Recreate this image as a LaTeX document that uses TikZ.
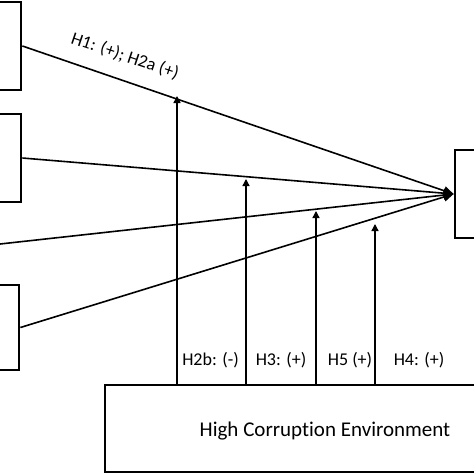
\documentclass[tikz,border=0pt]{standalone}
\usepackage{fontspec}
\setmainfont{Carlito}[Ligatures=NoCommon]
\usetikzlibrary{arrows.meta}
\begin{document}
\begin{tikzpicture}[x=1pt,y=-1pt,
  box/.style={draw=black, line width=2.8pt, fill=white, inner sep=0pt, minimum width=42pt},
  conn/.style={line width=1.6pt, -{Triangle[length=10pt,width=9pt]}},
  mod/.style={line width=1.3pt, -{Triangle[length=7pt,width=7pt]}},
  lab/.style={font=\fontsize{18}{20}\selectfont, anchor=base, inner sep=0pt}]
\useasboundingbox (0,0) rectangle (474,474);
\clip (0,0) rectangle (474,474);
\fill[white] (0,0) rectangle (474,474);
% boxes
\node[box, minimum height=88pt] (b1) at (0,46) {};
\node[box, minimum height=88pt] (b2) at (0,158) {};
\coordinate (b3) at (0,244);
\node[box, minimum height=85pt] (b4) at (-2,327.5) {};
\node[box, minimum height=88pt] (r) at (476,194) {};
\node[box, minimum width=440pt, minimum height=87pt] (env) at (325,428.5) {};
\node[font=\fontsize{21}{24}\selectfont, anchor=base, inner sep=0pt] (envt) at (325,436) {High Corruption Environment};
% main connectors
\draw[conn] (b1.east) -- (r.west);
\draw[conn] (b2.east) -- (r.west);
\draw[conn] (b3) -- (r.west);
\draw[conn] (b4.east) -- (r.west);
% moderating arrows
\coordinate (t1) at (177,96);
\coordinate (t2) at (246,179);
\coordinate (t3) at (316,211);
\coordinate (t4) at (375,224);
\draw[mod] (env.north -| t1) -- (t1);
\draw[mod] (env.north -| t2) -- (t2);
\draw[mod] (env.north -| t3) -- (t3);
\draw[mod] (env.north -| t4) -- (t4);
% labels
\node[font=\fontsize{18}{20}\selectfont, rotate=-18.7, inner sep=0pt] (h1) at (125,56) {H1: (+); H2a (+)};
\node[lab] (h2b) at (210.5,365) {H2b: (-)};
\node[lab] (h3) at (281,365) {H3: (+)};
\node[lab] (h5) at (350,365) {H5 (+)};
\node[lab] (h4) at (419,365) {H4: (+)};
\end{tikzpicture}
\end{document}
